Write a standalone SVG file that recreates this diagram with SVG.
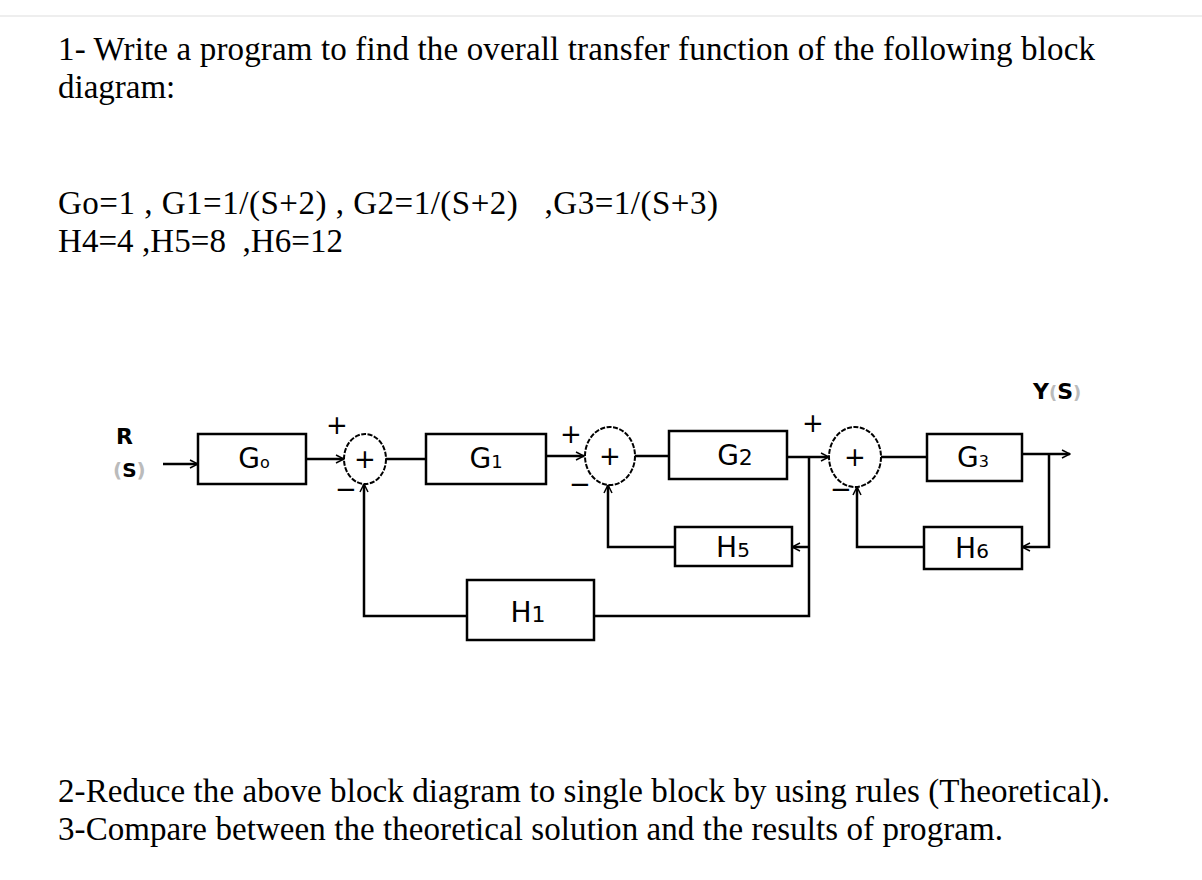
<svg xmlns="http://www.w3.org/2000/svg" width="1202" height="880" viewBox="0 0 1202 880">
<style>
.t{font-family:"Liberation Serif",serif;font-size:33px;fill:#000}
.b{fill:#fff;stroke:#000;stroke-width:2.5}
.s{fill:#fff;stroke:#000;stroke-width:2;stroke-dasharray:5 1.5}
.l{font-family:"DejaVu Sans",sans-serif;font-size:28px;fill:#000;text-anchor:middle}
.c{fill:none;stroke:#000;stroke-width:2.5}
.p{font-family:"DejaVu Sans",sans-serif;font-size:26px;fill:#000;text-anchor:middle}
</style>
<defs><marker id="a" markerWidth="10" markerHeight="10" refX="9" refY="5" orient="auto" markerUnits="userSpaceOnUse"><path d="M1,1 L9,5 L1,9" fill="none" stroke="#000" stroke-width="1.5"/></marker></defs>
<rect width="1202" height="880" fill="#fff"/>
<line x1="0" y1="16" x2="1202" y2="16" stroke="#ddd" stroke-width="1"/>
<text class="t" x="58" y="60" textLength="1037">1- Write a program to find the overall transfer function of the following block</text>
<text class="t" x="58" y="98">diagram:</text>
<text class="t" x="58" y="214" textLength="660" xml:space="preserve">Go=1 , G1=1/(S+2) , G2=1/(S+2)   ,G3=1/(S+3)</text>
<text class="t" x="58" y="252" textLength="285" xml:space="preserve">H4=4 ,H5=8  ,H6=12</text>
<text class="t" x="58" y="802" textLength="1052">2-Reduce the above block diagram to single block by using rules (Theoretical).</text>
<text class="t" x="58" y="840" textLength="945">3-Compare between the theoretical solution and the results of program.</text>
<text x="116" y="444" font-family="DejaVu Sans,sans-serif" font-weight="bold" font-size="22">R</text>
<text x="113" y="477" font-family="DejaVu Sans,sans-serif" font-weight="bold" font-size="20"><tspan fill="#bbb">(</tspan>S<tspan fill="#bbb">)</tspan></text>
<text x="1033" y="399" font-family="DejaVu Sans,sans-serif" font-weight="bold" font-size="22">Y<tspan fill="#bbb" font-size="18">(</tspan>S<tspan fill="#bbb" font-size="18">)</tspan></text>
<g id="connectors">
<line class="c" x1="163" y1="464" x2="198" y2="464" marker-end="url(#a)"/>
<line class="c" x1="306" y1="459" x2="344" y2="459" marker-end="url(#a)"/>
<line class="c" x1="386" y1="459" x2="426" y2="459"/>
<line class="c" x1="546" y1="456" x2="584" y2="456" marker-end="url(#a)"/>
<line class="c" x1="635" y1="456" x2="669" y2="456"/>
<line class="c" x1="787" y1="457" x2="829" y2="457" marker-end="url(#a)"/>
<line class="c" x1="881" y1="457" x2="927" y2="457"/>
<line class="c" x1="1022" y1="454" x2="1070" y2="454" marker-end="url(#a)"/>
<polyline class="c" points="809,457 809,616 594,616"/>
<polyline class="c" points="467,616 364,616 364,484" marker-end="url(#a)"/>
<polyline class="c" points="809,547 792,547" marker-end="url(#a)"/>
<polyline class="c" points="675,547 608,547 608,485" marker-end="url(#a)"/>
<polyline class="c" points="1049,454 1049,547 1022,547" marker-end="url(#a)"/>
<polyline class="c" points="924,547 857,547 857,487" marker-end="url(#a)"/>
</g>
<g id="G0"><rect class="b" x="198" y="434" width="108" height="50"/><text class="l" x="254" y="468">G<tspan font-size="16">o</tspan></text></g>
<g id="sum1"><ellipse class="s" cx="365" cy="459" rx="21" ry="25"/><text class="p" x="365" y="468">+</text><text class="p" x="337" y="434">+</text><text class="p" x="346" y="498">−</text></g>
<g id="G1"><rect class="b" x="426" y="434" width="120" height="50"/><text class="l" x="486" y="468">G<tspan font-size="18">1</tspan></text></g>
<g id="sum2"><ellipse class="s" cx="610" cy="456" rx="25" ry="29"/><text class="p" x="610" y="465">+</text><text class="p" x="571" y="443">+</text><text class="p" x="580" y="493">−</text></g>
<g id="G2"><rect class="b" x="669" y="431" width="118" height="48"/><text class="l" x="735" y="465">G<tspan font-size="22">2</tspan></text></g>
<g id="sum3"><ellipse class="s" cx="855" cy="457" rx="26" ry="30"/><text class="p" x="855" y="466">+</text><text class="p" x="813" y="432">+</text><text class="p" x="841" y="498">−</text></g>
<g id="G3"><rect class="b" x="927" y="434" width="95" height="47"/><text class="l" x="973" y="467">G<tspan font-size="16">3</tspan></text></g>
<g id="H5"><rect class="b" x="675" y="527" width="117" height="39"/><text class="l" x="733" y="557">H<tspan font-size="20">5</tspan></text></g>
<g id="H6"><rect class="b" x="924" y="527" width="98" height="42"/><text class="l" x="972" y="558">H<tspan font-size="20">6</tspan></text></g>
<g id="H1"><rect class="b" x="467" y="580" width="127" height="60"/><text class="l" x="528" y="622">H<tspan font-size="22">1</tspan></text></g>
</svg>
